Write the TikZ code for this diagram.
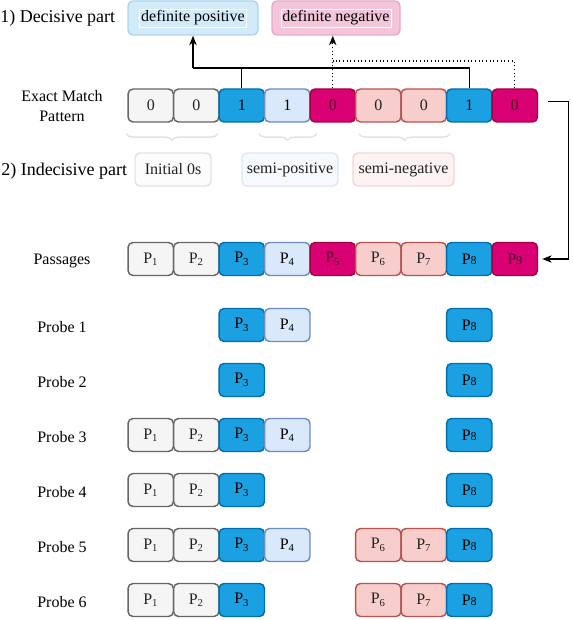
\documentclass[tikz,border=0pt]{standalone}
\usepackage{fontspec}
\setmainfont{Liberation Serif}
\newfontfamily\tms{Liberation Serif}
\usepackage{tikz}
\usetikzlibrary{shapes,arrows,arrows.meta,calc,decorations.pathreplacing}

\definecolor{cgray}{HTML}{F5F5F5}
\definecolor{cgrayd}{HTML}{666666}
\definecolor{ctxt}{HTML}{222222}
\definecolor{cblue}{HTML}{1BA1E2}
\definecolor{cblued}{HTML}{006EAF}
\definecolor{clblue}{HTML}{DAE8FC}
\definecolor{clblued}{HTML}{6C8EBF}
\definecolor{cmag}{HTML}{D80073}
\definecolor{cmagd}{HTML}{A50040}
\definecolor{cmagt}{HTML}{4A0A28}
\definecolor{clred}{HTML}{F8CECC}
\definecolor{clredd}{HTML}{B85450}
\definecolor{cposf}{HTML}{D3EBF8}
\definecolor{cposd}{HTML}{AAD5EF}
\definecolor{cnegf}{HTML}{F4C6DA}
\definecolor{cnegd}{HTML}{EAA8C6}
\definecolor{cbrace}{HTML}{E2E2E2}

\newcommand{\psg}[1]{P\textsubscript{#1}}
\newcommand{\psgb}[1]{P{\fontsize{9}{9}\selectfont #1}}

\tikzset{
  every node/.style={font=\tms\fontsize{12}{14}\selectfont},
  cell/.style={rounded corners=3.75pt, line width=1.1pt, minimum width=34.1pt,
    minimum height=24.75pt, inner sep=0pt},
  gcell/.style={cell, draw=cgrayd, fill=cgray, text=ctxt},
  bcell/.style={cell, draw=cblued, fill=cblue, text=black},
  lbcell/.style={cell, draw=clblued, fill=clblue, text=black},
  mcell/.style={cell, draw=cmagd, fill=cmag, text=cmagt},
  lrcell/.style={cell, draw=clredd, fill=clred, text=ctxt},
  rowlabel/.style={font=\tms\fontsize{12}{15}\selectfont, align=center, inner sep=0pt},
  partlabel/.style={font=\tms\fontsize{13.5}{16}\selectfont, anchor=west, inner sep=0pt},
  defbox/.style={rounded corners=3.75pt, line width=1.1pt, minimum height=25.5pt},
  txtframe/.style={draw=white, line width=0.5pt, inner sep=1.2pt},
  indbox/.style={rounded corners=3.75pt, line width=1.1pt, minimum height=24.75pt, text=ctxt},
  brc/.style={draw=cbrace, line width=1.1pt, decorate, decoration={brace, mirror, amplitude=5pt}},
  arrowtip/.style={-{Stealth[length=7pt,width=5.5pt,inset=2pt]}},
  dotline/.style={dash pattern=on 0.75pt off 2pt},
}

\begin{document}
\begin{tikzpicture}[x=0.75pt,y=0.75pt,yscale=-1,xscale=1]
    \useasboundingbox (0,0) rectangle (572,620);

    % Part labels
    \node [partlabel] (dec) at (0,18) {1) Decisive part};
    \node [partlabel] (ind) at (1,171) {2) Indecisive part};

    % Decisive boxes
    \node [defbox, draw=cposd, fill=cposf, minimum width=97.5pt] (dpos) at (193,18) {};
    \node [txtframe] (dpostxt) at (dpos) {definite positive};
    \node [defbox, draw=cnegd, fill=cnegf, minimum width=96pt] (dneg) at (336,18) {};
    \node [txtframe] (dnegtxt) at (dneg) {definite negative};

    % Row labels
    \node [rowlabel] (lem) at (62,106) {Exact Match\\Pattern};
    \node [rowlabel] (lpas) at (62,261) {Passages};
    \node [rowlabel] (lpr1) at (62,327) {Probe 1};
    \node [rowlabel] (lpr2) at (62,382) {Probe 2};
    \node [rowlabel] (lpr3) at (62,437) {Probe 3};
    \node [rowlabel] (lpr4) at (62,492) {Probe 4};
    \node [rowlabel] (lpr5) at (62,547) {Probe 5};
    \node [rowlabel] (lpr6) at (62,602) {Probe 6};

    % Exact match pattern
    \node [gcell] (m1) at (150.75,105.5) {0};
    \node [gcell] (m2) at (196.25,105.5) {0};
    \node [bcell] (m3) at (241.75,105.5) {1};
    \node [lbcell] (m4) at (287.25,105.5) {1};
    \node [mcell] (m5) at (332.75,105.5) {0};
    \node [lrcell] (m6) at (378.25,105.5) {0};
    \node [lrcell] (m7) at (423.75,105.5) {0};
    \node [bcell] (m8) at (469.25,105.5) {1};
    \node [mcell] (m9) at (514.75,105.5) {0};

    % Braces
    \draw [brc] ($(m1.south west)+(-1,11)$) -- ($(m2.south east)+(-2,11)$);
    \draw [brc] ($(m4.south west)+(-5,11)$) -- ($(m4.south east)+(6,11)$);
    \draw [brc] ($(m6.south west)+(4,11)$) -- ($(m7.south east)+(3,11)$);

    % Indecisive boxes
    \node [indbox, draw=cbrace, fill={rgb,255:red,252;green,252;blue,252}, minimum width=57pt] (ini) at (173,169.5) {Initial 0s};
    \node [indbox, draw={rgb,255:red,221;green,231;blue,246}, fill={rgb,255:red,246;green,249;blue,254}, minimum width=72pt] (spos) at (290,169.5) {semi-positive};
    \node [indbox, draw={rgb,255:red,244;green,214;blue,213}, fill={rgb,255:red,253;green,243;blue,243}, minimum width=75.75pt] (sneg) at (403.5,169.5) {semi-negative};

    % Passages
    \node [gcell] (p1) at (150.75,259) {\psg{1}};
    \node [gcell] (p2) at (196.25,259) {\psg{2}};
    \node [bcell] (p3) at (241.75,259) {\psg{3}};
    \node [lbcell] (p4) at (287.25,259) {\psg{4}};
    \node [mcell] (p5) at (332.75,259) {\psg{5}};
    \node [lrcell] (p6) at (378.25,259) {\psg{6}};
    \node [lrcell] (p7) at (423.75,259) {\psg{7}};
    \node [bcell] (p8) at (469.25,259) {\psgb{8}};
    \node [mcell] (p9) at (514.75,259) {\psgb{9}};

    % Probe 1
    \node [bcell] (a3) at (241.75,325) {\psg{3}};
    \node [lbcell] (a4) at (287.25,325) {\psg{4}};
    \node [bcell] (a8) at (469.25,325) {\psgb{8}};
    % Probe 2
    \node [bcell] (b3) at (241.75,380) {\psg{3}};
    \node [bcell] (b8) at (469.25,380) {\psgb{8}};
    % Probe 3
    \node [gcell] (c1) at (150.75,435) {\psg{1}};
    \node [gcell] (c2) at (196.25,435) {\psg{2}};
    \node [bcell] (c3) at (241.75,435) {\psg{3}};
    \node [lbcell] (c4) at (287.25,435) {\psg{4}};
    \node [bcell] (c8) at (469.25,435) {\psgb{8}};
    % Probe 4
    \node [gcell] (d1) at (150.75,490) {\psg{1}};
    \node [gcell] (d2) at (196.25,490) {\psg{2}};
    \node [bcell] (d3) at (241.75,490) {\psg{3}};
    \node [bcell] (d8) at (469.25,490) {\psgb{8}};
    % Probe 5
    \node [gcell] (e1) at (150.75,545) {\psg{1}};
    \node [gcell] (e2) at (196.25,545) {\psg{2}};
    \node [bcell] (e3) at (241.75,545) {\psg{3}};
    \node [lbcell] (e4) at (287.25,545) {\psg{4}};
    \node [lrcell] (e6) at (378.25,545) {\psg{6}};
    \node [lrcell] (e7) at (423.75,545) {\psg{7}};
    \node [bcell] (e8) at (469.25,545) {\psgb{8}};
    % Probe 6
    \node [gcell] (f1) at (150.75,600) {\psg{1}};
    \node [gcell] (f2) at (196.25,600) {\psg{2}};
    \node [bcell] (f3) at (241.75,600) {\psg{3}};
    \node [lrcell] (f6) at (378.25,600) {\psg{6}};
    \node [lrcell] (f7) at (423.75,600) {\psg{7}};
    \node [bcell] (f8) at (469.25,600) {\psgb{8}};

    % Connectors to the decisive part
    \coordinate (jp) at (193,68);
    \coordinate (jn) at (332.75,61);
    \draw [line width=1pt] (m3.north) |- (jp);
    \draw [line width=1pt] (m8.north) |- (jp);
    \draw [line width=1pt, arrowtip] (jp) -- (dpos.south);
    \draw [line width=1pt, dotline] (m9.north) |- (jn);
    \draw [line width=1pt, dotline, arrowtip] (m5.north) -- (m5.north |- dneg.south);

    % Pattern to passages
    \draw [line width=1pt, arrowtip] ($(m9.east)+(10,-4)$) -| ($(p9.east)+(30,0)$) -- ($(p9.east)+(4,0)$);

\end{tikzpicture}
\end{document}
